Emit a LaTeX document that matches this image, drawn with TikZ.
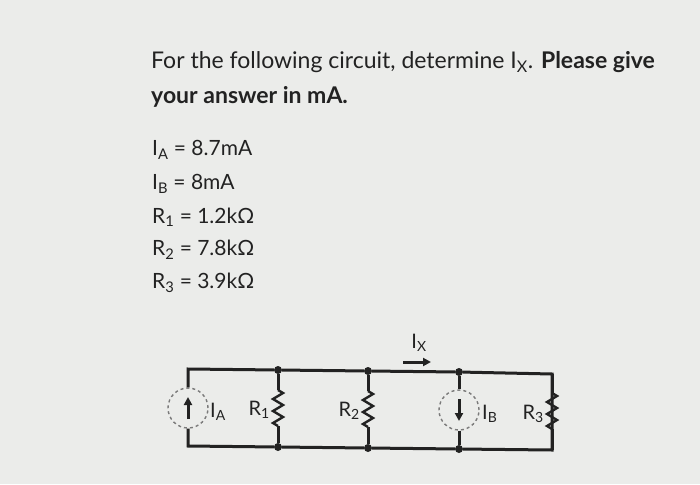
\documentclass[tikz,border=0pt]{standalone}
\usepackage{fontspec}
\setmainfont{Lato}
\usetikzlibrary{arrows.meta}
\definecolor{bg}{HTML}{EBECEA}
\definecolor{ink}{HTML}{222222}
\tikzset{
  wire/.style={line width=3pt,draw=ink},
  dot/.style={circle,fill=ink,inner sep=0pt,minimum size=8pt},
  src/.style={circle,draw=ink!60,dashed,line width=1.4pt,minimum size=40pt,inner sep=0pt},
  lbl/.style={text=ink,font=\fontsize{20}{20}\selectfont,inner sep=1pt},
  txt/.style={text=ink,anchor=west,inner sep=0pt},
  res/.style={wire,line width=2.4pt}
}
\newcommand{\zig}[2]{%
  \draw[res] (#1,#2) -- ++(5,3) -- ++(-10,6) -- ++(10,6) -- ++(-10,6) -- ++(10,6) -- ++(-10,6) -- ++(5,3);}
\begin{document}
\begin{tikzpicture}[x=1pt,y=-1pt]
\fill[bg] (0,0) rectangle (700,484);
\useasboundingbox (0,0) rectangle (700,484);
\node[txt,font=\fontsize{23}{23}\selectfont] (t1) at (151,62) {For the following circuit, determine I\textsubscript{X}. \textbf{Please give}};
\node[txt,font=\fontsize{23}{23}\selectfont\bfseries] (t2) at (151,97) {your answer in mA.};
\begin{scope}[font=\fontsize{21}{21}\selectfont]
\node[txt] (v1) at (152,150) {I\textsubscript{A} = 8.7mA};
\node[txt] (v2) at (152,184) {I\textsubscript{B} = 8mA};
\node[txt] (v3) at (152,217) {R\textsubscript{1} = 1.2kΩ};
\node[txt] (v4) at (152,250) {R\textsubscript{2} = 7.8kΩ};
\node[txt] (v5) at (152,283) {R\textsubscript{3} = 3.9kΩ};
\end{scope}
\coordinate (tl) at (188,369);
\coordinate (bl) at (188,446);
\node[dot] (t1n) at (278,370) {};
\node[dot] (b1n) at (278,447) {};
\node[dot] (t2n) at (368,371) {};
\node[dot] (b2n) at (368,448) {};
\node[dot] (t3n) at (459,372) {};
\node[dot] (b3n) at (459,449) {};
\coordinate (tr) at (552,374);
\coordinate (br) at (552,450);
\node[src] (sa) at (188,408) {};
\node[src] (sb) at (459,410) {};
\draw[wire] (sa.north) -- (tl) -- (t1n) -- (t2n) -- (t3n) -- (tr) -- (br) -- (b3n) -- (b2n) -- (b1n) -- (bl) -- (sa.south);
\draw[wire] (t3n) -- (sb.north) (sb.south) -- (b3n);
\draw[wire,-{Triangle[length=8pt,width=8pt]}] ([yshift=-11pt]sa.center) -- ([yshift=11pt]sa.center);
\draw[wire,-{Triangle[length=8pt,width=8pt]}] ([yshift=11pt]sb.center) -- ([yshift=-11pt]sb.center);
\draw[wire] (t1n) -- (278,390); \zig{278}{390} \draw[wire] (278,426) -- (b1n);
\draw[wire] (t2n) -- (368,391); \zig{368}{391} \draw[wire] (368,427) -- (b2n);
\draw[wire] (tr) -- (552,393); \zig{552}{393} \draw[wire] (552,429) -- (br);
\node[lbl,anchor=west] (la) at (209,412) {I\textsubscript{A}};
\node[lbl,anchor=east] (l1) at (271,410) {R\textsubscript{1}};
\node[lbl,anchor=east] (l2) at (361,411) {R\textsubscript{2}};
\node[lbl,anchor=west] (lb) at (481,414) {I\textsubscript{B}};
\node[lbl,anchor=east] (l3) at (545,414) {R\textsubscript{3}};
\node[lbl] (lx) at (419,343) {I\textsubscript{X}};
\coordinate (ax1) at (403,362);
\coordinate (ax2) at (431,362);
\draw[wire,-{Triangle[length=8pt,width=8pt]}] (ax1) -- (ax2);
\end{tikzpicture}
\end{document}
